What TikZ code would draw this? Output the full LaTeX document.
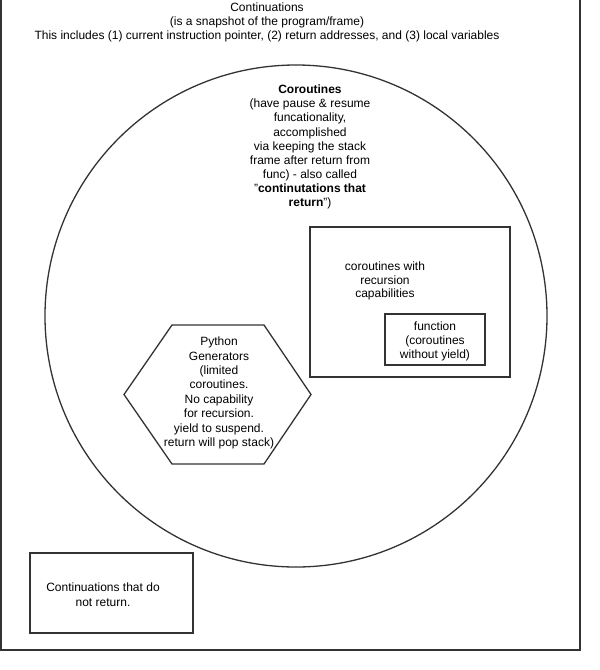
\documentclass[tikz,border=0pt]{standalone}
\usepackage{fontspec}
\setmainfont{Liberation Sans}
\begin{document}
\begin{tikzpicture}[x=1pt,y=-1pt,
  shapeline/.style={draw=black!80, line width=1.3pt, inner sep=0pt},
  txt/.style={align=center, font=\fontsize{12}{14}\selectfont, inner sep=0pt, text=black}]
\useasboundingbox (0,0) rectangle (600,670);
% outer frame
\node[shapeline, line width=2pt, rectangle, minimum width=579pt, minimum height=656pt] (outer) at (290.5,322) {};
\node[txt] (title) at (267,22) {Continuations\\(is a snapshot of the program/frame)\\This includes (1) current instruction pointer, (2) return addresses, and (3) local variables};
% coroutines circle
\node[shapeline, circle, minimum size=502pt] (coro) at (296,316) {};
\node[txt, font=\fontsize{12}{14.1}\selectfont] (corotext) at (310,147) {\textbf{Coroutines}\\(have pause \& resume\\funcationality,\\accomplished\\via keeping the stack\\frame after return from\\func) - also called\\"\textbf{continutations that}\\\textbf{return}")};
% recursion rectangle
\node[shapeline, rectangle, minimum width=200pt, minimum height=150pt, fill=white] (rec) at (410,302) {};
\node[txt, font=\fontsize{12}{13.5}\selectfont] (rectext) at (385,281) {coroutines with\\recursion\\capabilities};
% function rectangle
\node[shapeline, rectangle, minimum width=100pt, minimum height=51pt] (func) at (435,339.5) {};
\node[txt] (functext) at (435,341) {function\\(coroutines\\without yield)};
% python generators hexagon
\coordinate (gen) at (217.5,394.5);
\draw[draw=black!80, line width=1.3pt, fill=white] ([xshift=-93.5pt]gen) -- ([xshift=-45.5pt,yshift=69.5pt]gen) -- ([xshift=46.5pt,yshift=69.5pt]gen) -- ([xshift=93.5pt]gen) -- ([xshift=46.5pt,yshift=-69.5pt]gen) -- ([xshift=-45.5pt,yshift=-69.5pt]gen) -- cycle;
\node[txt, font=\fontsize{12}{14.4}\selectfont] (gentext) at (219,393) {Python\\Generators\\(limited\\coroutines.\\No capability\\for recursion.\\yield to suspend.\\return will pop stack)};
% non-returning continuations
\node[shapeline, rectangle, minimum width=163pt, minimum height=80pt] (noret) at (111.5,593) {};
\node[txt, font=\fontsize{12}{15}\selectfont] (noretext) at (103,595) {Continuations that do\\not return.};
\end{tikzpicture}
\end{document}
